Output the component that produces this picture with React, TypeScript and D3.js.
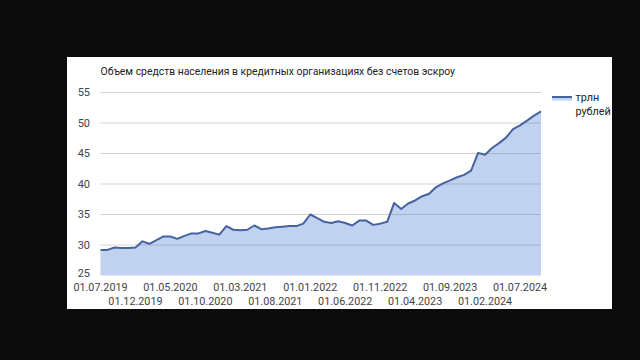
import * as d3 from "d3";

const title = "Объем средств населения в кредитных организациях без счетов эскроу";
const seriesName = ["трлн", "рублей"];

// monthly, 01.07.2019 .. 01.10.2024
const startMonth = new Date(2019, 6, 1);
const values = [
	29.2, 29.2, 29.6, 29.5, 29.5, 29.6, 30.6, 30.2, 30.8, 31.4,
	31.4, 31.0, 31.5, 31.9, 31.9, 32.3, 32.0, 31.7, 33.1, 32.5,
	32.4, 32.5, 33.2, 32.6, 32.7, 32.9, 33.0, 33.1, 33.1, 33.5,
	35.0, 34.4, 33.8, 33.6, 33.9, 33.6, 33.2, 34.0, 34.0, 33.3,
	33.5, 33.8, 36.9, 35.9, 36.8, 37.3, 38.0, 38.4, 39.5, 40.1,
	40.6, 41.1, 41.5, 42.2, 45.1, 44.8, 45.9, 46.7, 47.6, 49.0,
	49.6, 50.4, 51.2, 51.9,
];
const yTicks = [25, 30, 35, 40, 45, 50, 55];
const labelEvery = 5;

const fmt = d3.timeFormat("%d.%m.%Y");
const dates = values.map((_, i) => d3.timeMonth.offset(startMonth, i));
const categories = dates.map((d) => fmt(d));

const W = 640,
	H = 360;
const plot = { left: 100.5, right: 541, top: 92.5, bottom: 275.5 };

export default function App() {
	const x = d3.scalePoint<string>().domain(categories).range([plot.left, plot.right]).padding(0);
	const y = d3.scaleLinear().domain([25, 55]).range([plot.bottom, plot.top]);

	const area = d3
		.area<number>()
		.x((_, i) => x(categories[i])!)
		.y0(y(25))
		.y1((d) => y(d));
	const line = d3
		.line<number>()
		.x((_, i) => x(categories[i])!)
		.y((d) => y(d));

	const font = "Roboto, 'Noto Sans', sans-serif";

	return (
		<div style={{ position: "absolute", left: 0, top: 0 }}>
			<svg width={W} height={H} style={{ display: "block" }}>
				<rect width={W} height={H} fill="#0b0b0b" />
				<rect x={67} y={57} width={545} height={252} fill="#ffffff" />
				<text x={plot.left} y={74.5} fontFamily={font} fontSize={10.4} fill="#222">
					{title}
				</text>
				{yTicks.map((t) => (
					<g key={t}>
						{t !== 25 && (
							<line x1={plot.left} x2={plot.right} y1={y(t)} y2={y(t)} stroke="#d4d4d4" strokeWidth={1} />
						)}
						<text
							x={90}
							y={t === 25 ? y(t) - 2 : y(t)}
							dy="0.35em"
							textAnchor="end"
							fontFamily={font}
							fontSize={11}
							fill="#444"
						>
							{t}
						</text>
					</g>
				))}
				<path d={area(values)!} fill="#3366cc" fillOpacity={0.3} />
				<path d={line(values)!} fill="none" stroke="#44639f" strokeWidth={2} strokeLinejoin="round" />
				{categories.map((c, i) =>
					i % labelEvery === 0 ? (
						<text
							key={c}
							x={x(c)}
							y={(i / labelEvery) % 2 === 0 ? 287.5 : 301}
							dy="0.35em"
							textAnchor="middle"
							fontFamily={font}
							fontSize={10.8}
							fill="#444"
						>
							{c}
						</text>
					) : null
				)}
				<rect x={552} y={96.5} width={20} height={4} fill="#3366cc" fillOpacity={0.3} />
				<line x1={552} x2={572} y1={97} y2={97} stroke="#44639f" strokeWidth={2} />
				{seriesName.map((s, i) => (
					<text key={s} x={575.5} y={97.5 + i * 14} dy="0.35em" fontFamily={font} fontSize={10.8} fill="#222">
						{s}
					</text>
				))}
			</svg>
		</div>
	);
}
